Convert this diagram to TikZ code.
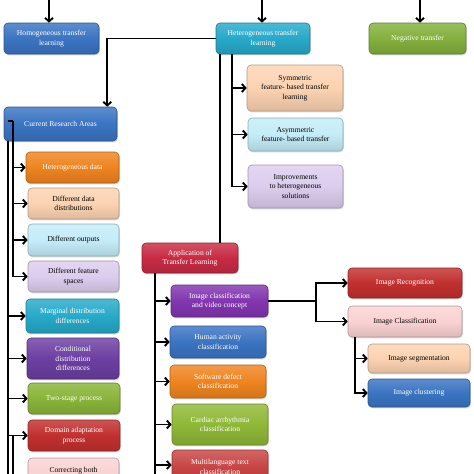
\documentclass[tikz,border=0pt]{standalone}
\usepackage{fontspec}
\setmainfont{Liberation Serif}
\usetikzlibrary{arrows.meta,shadows,calc}
\definecolor{cblue}{HTML}{3B74C2}
\definecolor{cteal}{HTML}{27A9C9}
\definecolor{cgreen}{HTML}{83B03D}
\definecolor{corange}{HTML}{EE8420}
\definecolor{clorange}{HTML}{FCD3B2}
\definecolor{clcyan}{HTML}{C4ECF8}
\definecolor{clpurple}{HTML}{DCCDEE}
\definecolor{cpurple}{HTML}{6C3FA1}
\definecolor{cred}{HTML}{C1302F}
\definecolor{clpink}{HTML}{FAD2D3}
\tikzset{
  bx/.style={rounded corners=4pt, top color=#1!82!white, bottom color=#1!88!black,
    middle color=#1, draw=#1!72!black, line width=0.6pt,
    drop shadow={shadow xshift=0.8pt, shadow yshift=-1.4pt, opacity=0.3},
    align=center, inner sep=1pt, font=\fontsize{7.6}{9.4}\selectfont},
  dk/.style={bx=#1, text=white},
  lt/.style={bx=#1, text=black},
  conn/.style={line width=1.9pt, black},
  arr/.style={conn, -{Straight Barb[length=3.6pt,width=8pt]}},
}
\begin{document}
\begin{tikzpicture}[x=1pt,y=-1pt]
\useasboundingbox (0,0) rectangle (474,474);
\clip (0,0) rectangle (474,474);
% top row
\node[dk=cblue, minimum width=95pt, minimum height=31pt] (homo) at (51.5,38.5) {Homogeneous transfer\\learning};
\node[dk=cteal, minimum width=94pt, minimum height=31pt] (het) at (263,38.5) {Heterogeneous transfer\\learning};
\node[dk=cgreen, minimum width=97pt, minimum height=31pt] (neg) at (417.5,38.5) {Negative transfer};
\coordinate (t1) at (49,0);
\coordinate (t2) at (262,0);
\coordinate (t3) at (420,0);
\draw[arr] (t1) -- (t1 |- homo.north);
\draw[arr] (t2) -- (t2 |- het.north);
\draw[arr] (t3) -- (t3 |- neg.north);
% heterogeneous subboxes
\node[lt=clorange, minimum width=96pt, minimum height=46pt] (sym) at (295,88) {Symmetric\\feature- based transfer\\learning};
\node[lt=clcyan, minimum width=95pt, minimum height=33pt] (asym) at (295.5,134.5) {Asymmetric\\feature- based transfer};
\node[lt=clpurple, minimum width=95pt, minimum height=43pt] (impr) at (295.5,186.5) {Improvements\\to heterogeneous\\solutions};
% current research areas
\node[dk=cblue, minimum width=113pt, minimum height=34pt] (cra) at (60.5,124) {Current Research Areas};
\node[dk=corange, minimum width=93pt, minimum height=31pt] (hd) at (72.5,167.5) {Heterogeneous data};
\node[lt=clorange, minimum width=91pt, minimum height=31pt] (ddd) at (73.5,203.5) {Different data\\distributions};
\node[lt=clcyan, minimum width=91pt, minimum height=32pt] (dout) at (73.5,240) {Different outputs};
\node[lt=clpurple, minimum width=91pt, minimum height=31pt] (dfs) at (73.5,276.5) {Different feature\\spaces};
\node[dk=cteal, minimum width=93pt, minimum height=34pt] (mdd) at (72.5,316) {Marginal distribution\\differences};
\node[dk=cpurple, minimum width=92pt, minimum height=41pt] (cdd) at (73,358.5) {Conditional\\distribution\\differences};
\node[dk=cgreen!95!yellow, minimum width=92pt, minimum height=31pt] (tsp) at (74,398.5) {Two-stage process};
\node[dk=cred, minimum width=92pt, minimum height=31pt] (dap) at (74,435.5) {Domain adaptation\\process};
\node[lt=clpink, minimum width=91pt, minimum height=34pt] (cb) at (73.5,475) {Correcting both\\\phantom{x}};
% application
\node[dk=cred!90!magenta, minimum width=96pt, minimum height=30pt] (app) at (190,258) {Application of\\Transfer Learning};
\node[dk=cpurple!85!magenta, minimum width=97pt, minimum height=32pt] (icvc) at (219.5,301) {Image classification\\and video concept};
\node[dk=cblue, minimum width=96pt, minimum height=32pt] (hac) at (218,342) {Human activity\\classification};
\node[dk=corange, minimum width=96pt, minimum height=33pt] (sdc) at (218,381.5) {Software defect\\classification};
\node[dk=cgreen!90!yellow, minimum width=96pt, minimum height=41pt] (cac) at (220,424.5) {Cardiac arrhythmia\\classification};
\node[dk=cred!90!white, minimum width=96pt, minimum height=34pt] (mtc) at (220,467) {Multilanguage text\\classification};
% image branch
\node[dk=cred, minimum width=114pt, minimum height=30pt] (ir) at (405,283) {Image Recognition};
\node[lt=clpink, minimum width=114pt, minimum height=31pt] (ic) at (405,321.5) {Image Classification};
\node[lt=clorange, minimum width=102pt, minimum height=29pt] (is) at (419,358.5) {Image segmentation};
\node[dk=cblue, minimum width=102pt, minimum height=28pt] (icl) at (419,393) {Image clustering};
% hetero -> current research areas
\draw[arr] (het.west) -| ([xshift=-10pt]cra.north east);
% hetero -> application (plain line)
\coordinate (ha) at ([xshift=4pt]het.south west);
\draw[conn] (ha) -- (ha |- app.north);
% hetero -> subboxes
\coordinate (hb) at ([xshift=16pt]het.south west);
\draw[arr] (hb) |- (impr.west);
\draw[arr] (hb |- sym.west) -- (sym.west);
\draw[arr] (hb |- asym.west) -- (asym.west);
% current research areas branches
\coordinate (ca) at ([xshift=4pt]cra.south west);
\coordinate (cend) at (ca |- 0,474);
\draw[conn] (ca) -- (cend);
\coordinate (cs1) at ([yshift=20pt]ca);
\coordinate (cs1b) at ([xshift=5pt]cs1);
\draw[conn] (cs1) -- (cs1b);
\draw[arr] (cs1b) |- (dfs.west);
\draw[arr] (cs1b |- hd.west) -- (hd.west);
\draw[arr] (cs1b |- ddd.west) -- (ddd.west);
\draw[arr] (cs1b |- dout.west) -- (dout.west);
\draw[arr] (ca |- mdd.west) -- (mdd.west);
\draw[arr] (ca |- cdd.west) -- (cdd.west);
\draw[arr] (ca |- tsp.west) -- (tsp.west);
\draw[arr] (ca |- dap.west) -- (dap.west);
\coordinate (cs2) at ([xshift=5pt]ca |- dap.west);
\draw[arr] (cs2) |- ([yshift=-5pt]cb.west);
\draw[conn] ([yshift=-5pt]cb.west -| cs2) -- (cs2 |- 0,474);
% application branches
\coordinate (aa) at ([xshift=13pt]app.south west);
\draw[conn] (aa) -- (aa |- 0,474);
\draw[arr] (aa |- icvc.west) -- (icvc.west);
\draw[arr] (aa |- hac.west) -- (hac.west);
\draw[arr] (aa |- sdc.west) -- (sdc.west);
\draw[arr] (aa |- cac.west) -- (cac.west);
\draw[arr] ([yshift=2pt]aa |- mtc.west) -- ([yshift=2pt]mtc.west);
% image classification branch
\coordinate (sp) at ([xshift=48pt]icvc.east);
\draw[conn] (icvc.east) -- (sp);
\draw[arr] (sp) |- (ir.west);
\draw[arr] (sp) |- (ic.west);
\coordinate (icb) at ([xshift=7pt]ic.south west);
\draw[arr] (icb) |- (icl.west);
\draw[arr] (icb |- is.west) -- (is.west);
\end{tikzpicture}
\end{document}
